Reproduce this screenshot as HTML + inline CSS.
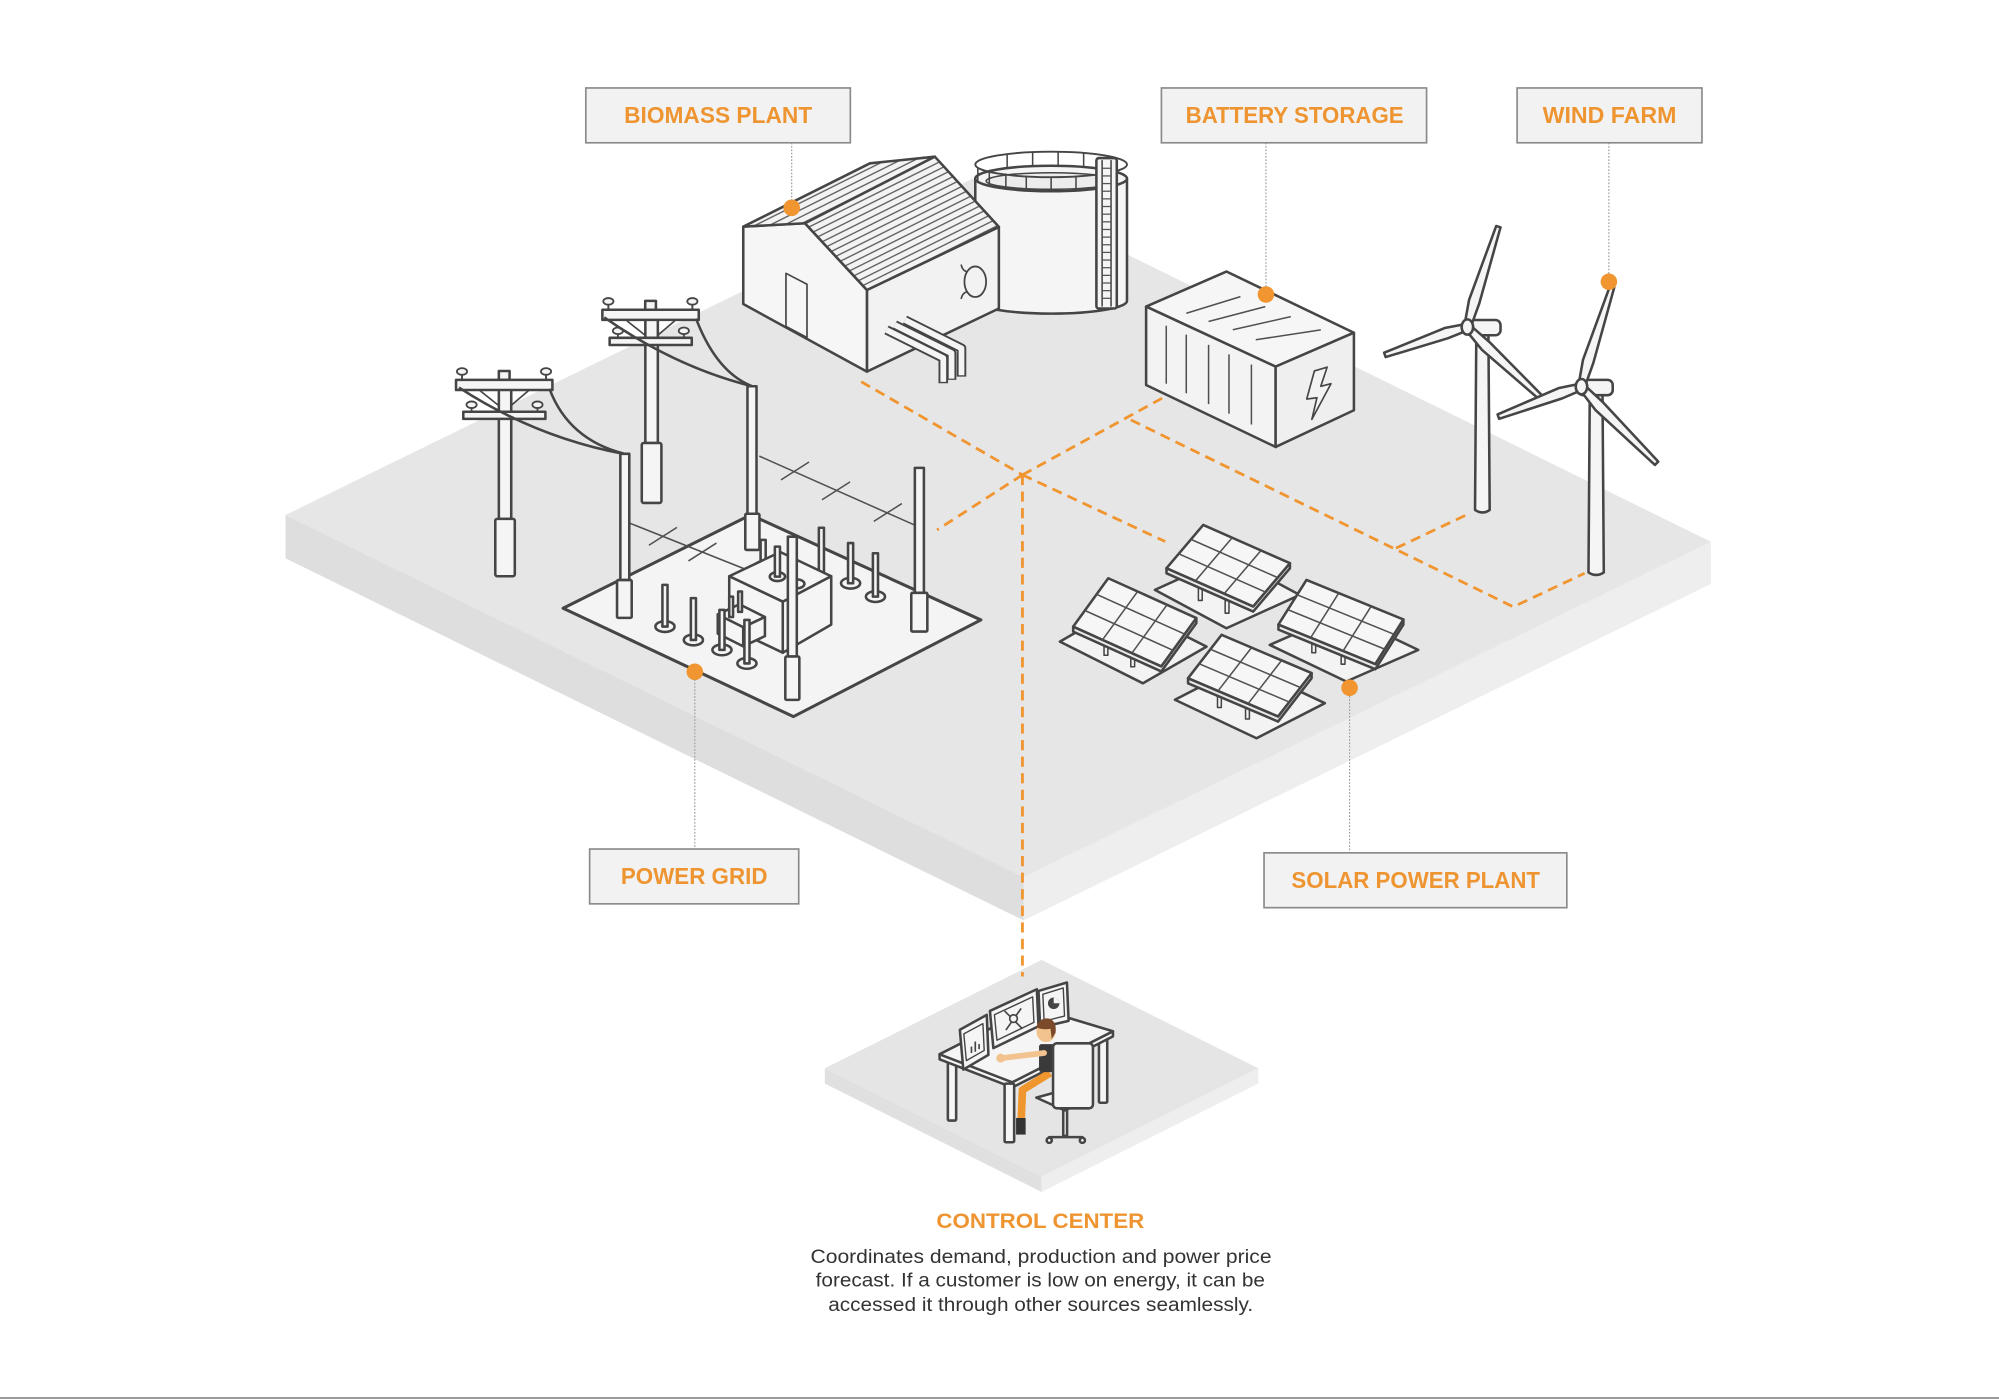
<!DOCTYPE html>
<html>
<head>
<meta charset="utf-8">
<style>
html,body{margin:0;padding:0;background:#fff;overflow:hidden;}
svg{display:block;}
.o{stroke:#454545;stroke-width:2;stroke-linejoin:round;stroke-linecap:round;}
.f{fill:#f5f5f5;}
.dash{fill:none;stroke:#F0952F;stroke-width:2.2;stroke-dasharray:8 5;}
.lead{fill:none;stroke:#9a9a9a;stroke-width:0.9;stroke-dasharray:1.3 1.3;}
.lbl{fill:#f2f2f2;stroke:#8a8a8a;stroke-width:1.3;}
.lt{font-family:"Liberation Sans",Arial,sans-serif;font-weight:700;fill:#EE9532;}
.dt{font-family:"Liberation Sans",Arial,sans-serif;fill:#333;}
.thin{stroke:#505050;stroke-width:1.2;fill:none;}
</style>
</head>
<body>
<svg width="1999" height="1400" viewBox="0 0 1568 1098.2" preserveAspectRatio="none" xmlns="http://www.w3.org/2000/svg">
<defs>
<pattern id="hatch" patternUnits="userSpaceOnUse" width="20" height="5" patternTransform="rotate(-26.5)">
<rect width="20" height="5" fill="#f3f3f3"/>
<line x1="0" y1="2.5" x2="20" y2="2.5" stroke="#505050" stroke-width="1"/>
</pattern>
</defs>

<!-- main platform -->
<polygon points="224,404 803,688 803,722 224,438" fill="#dedede"/>
<polygon points="803,688 1342,425 1342,458 803,722" fill="#eeeeee"/>
<polygon points="224,404 763,140 1342,425 803,688" fill="#e6e6e6"/>

<!-- control platform -->
<polygon points="647,838 817,923 817,935 647,850" fill="#e0e0e0"/>
<polygon points="817,923 987,838 987,850 817,935" fill="#eeeeee"/>
<polygon points="647,838 817,753 987,838 817,923" fill="#e5e5e5"/>

<!-- dashed connectors -->
<g class="dash">
<line x1="675.5" y1="299.4" x2="802" y2="372.5"/>
<line x1="802" y1="372.5" x2="914" y2="311"/>
<line x1="802" y1="372.5" x2="735" y2="415.7"/>
<line x1="802" y1="372.5" x2="914" y2="424.8"/>
<line x1="802" y1="372.5" x2="802" y2="766"/>
<polyline points="887,329.4 1187,476 1243,449.7"/>
<line x1="1095" y1="430" x2="1153" y2="402.6"/>
</g>

<!-- TANK -->
<g class="o">
<path class="f" d="M765,140 L765,236 A59.5,10 0 0 0 884,236 L884,140 Z"/>
<ellipse class="f" cx="824.5" cy="140" rx="59.5" ry="10"/>
<ellipse cx="824.5" cy="142" rx="51" ry="6.5" fill="#ececec" stroke-width="1.2"/>
<ellipse cx="824.5" cy="129" rx="59.5" ry="10" fill="none" stroke-width="1.5"/>
<g stroke-width="1.2">
<line x1="767" y1="132" x2="767" y2="143"/>
<line x1="776" y1="134.5" x2="776" y2="145.5"/>
<line x1="789" y1="136.5" x2="789" y2="147.5"/>
<line x1="805" y1="138.3" x2="805" y2="149"/>
<line x1="824.5" y1="139" x2="824.5" y2="150"/>
<line x1="844" y1="138.3" x2="844" y2="149"/>
<line x1="860" y1="136.5" x2="860" y2="147.5"/>
<line x1="790" y1="121" x2="790" y2="132"/>
<line x1="810" y1="119.5" x2="810" y2="130.5"/>
<line x1="830" y1="119.2" x2="830" y2="130.2"/>
<line x1="850" y1="120.2" x2="850" y2="131"/>
</g>
<rect class="f" x="860" y="124" width="16" height="118" rx="2"/>
<line x1="864.5" y1="126" x2="864.5" y2="240" stroke-width="1.2"/>
<line x1="871.5" y1="126" x2="871.5" y2="240" stroke-width="1.2"/>
</g>
<g stroke="#555" stroke-width="1">
<line x1="864.5" y1="132" x2="871.5" y2="132"/><line x1="864.5" y1="138" x2="871.5" y2="138"/><line x1="864.5" y1="144" x2="871.5" y2="144"/><line x1="864.5" y1="150" x2="871.5" y2="150"/><line x1="864.5" y1="156" x2="871.5" y2="156"/><line x1="864.5" y1="162" x2="871.5" y2="162"/><line x1="864.5" y1="168" x2="871.5" y2="168"/><line x1="864.5" y1="174" x2="871.5" y2="174"/><line x1="864.5" y1="180" x2="871.5" y2="180"/><line x1="864.5" y1="186" x2="871.5" y2="186"/><line x1="864.5" y1="192" x2="871.5" y2="192"/><line x1="864.5" y1="198" x2="871.5" y2="198"/><line x1="864.5" y1="204" x2="871.5" y2="204"/><line x1="864.5" y1="210" x2="871.5" y2="210"/><line x1="864.5" y1="216" x2="871.5" y2="216"/><line x1="864.5" y1="222" x2="871.5" y2="222"/><line x1="864.5" y1="228" x2="871.5" y2="228"/><line x1="864.5" y1="234" x2="871.5" y2="234"/>
</g>

<!-- HOUSE -->
<g class="o">
<polygon points="680,227.5 783.5,178 783.5,242 680,291.5" fill="#f2f2f2"/>
<polygon points="583,177.8 631.4,175.1 680,227.5 680,291.5 583,238.5" fill="#f6f6f6"/>
<polygon points="583,177.8 682.4,128.1 733.3,122.9 631.4,175.1" fill="url(#hatch)"/>
<polygon points="631.4,175.1 733.3,122.9 783.5,178 680,227.5" fill="url(#hatch)"/>
<polygon points="616.5,214.4 633,223 633,264.7 616.5,256" fill="#f6f6f6" stroke-width="1.3"/>
<ellipse cx="765" cy="221" rx="8.5" ry="12" fill="none" stroke-width="1.4"/>
<path d="M754,208 q1,4 4,5 M754,234 q1,-4 4,-5" fill="none" stroke-width="1.3"/>
</g>
<!-- pipes -->
<g fill="none" stroke-linejoin="round" stroke-linecap="butt">
<path d="M709.8,251 L754.2,273.2 L754.2,295.4" stroke="#454545" stroke-width="7.5"/>
<path d="M709.8,251 L754.2,273.2 L754.2,294.4" stroke="#f4f4f4" stroke-width="4.5"/>
<path d="M701.9,254.9 L746.4,277.1 L746.4,298" stroke="#454545" stroke-width="7.5"/>
<path d="M701.9,254.9 L746.4,277.1 L746.4,297" stroke="#f4f4f4" stroke-width="4.5"/>
<path d="M695.4,258.8 L739.9,281 L739.9,300.6" stroke="#454545" stroke-width="7.5"/>
<path d="M695.4,258.8 L739.9,281 L739.9,299.6" stroke="#f4f4f4" stroke-width="4.5"/>
</g>

<!-- BATTERY -->
<g class="o">
<polygon points="962,213 1062,261 1000.6,287.6 899,240.5" fill="#f6f6f6"/>
<polygon points="899,240.5 1000.6,287.6 1000.6,350.6 899,302" fill="#f3f3f3"/>
<polygon points="1000.6,287.6 1062,261 1062,321.8 1000.6,350.6" fill="#efefef"/>
</g>
<g class="thin">
<line x1="930.6" y1="245.7" x2="973" y2="232.7"/>
<line x1="948" y1="252.2" x2="992.5" y2="240.5"/>
<line x1="967" y1="258.7" x2="1012.5" y2="248.4"/>
<line x1="985" y1="266.5" x2="1036" y2="258.8"/>
<line x1="914.8" y1="255.5" x2="914.8" y2="301"/>
<line x1="930.5" y1="262.5" x2="930.5" y2="308.5"/>
<line x1="948" y1="270.5" x2="948" y2="317"/>
<line x1="964" y1="278" x2="964" y2="324.5"/>
<line x1="981.6" y1="286" x2="981.6" y2="333"/>
</g>
<polygon points="1031,291 1041,288 1036,303 1044,301 1029,329 1033,312 1025,313" fill="#f3f3f3" stroke="#454545" stroke-width="1.3" stroke-linejoin="round"/>

<!-- WIND TURBINES -->
<g class="o" stroke-width="1.8">
<!-- turbine 1 -->
<path class="f" d="M1158,262 L1167.5,262 L1168.5,400 Q1163,404 1157,400 Z"/>
<rect class="f" x="1150" y="251" width="27" height="12" rx="4"/>
<polygon class="f" points="1153.4,257.2 1160.4,237.8 1177,178.3 1173.6,177.3 1152.3,235.3 1148.6,255.8"/>
<polygon class="f" points="1151.8,258.9 1135.9,265.3 1086.9,280.1 1085.7,276.7 1133.2,257.3 1150.2,254.1"/>
<polygon class="f" points="1152.7,254.7 1168.3,268.3 1211.8,312.4 1209.4,315 1162.4,274.4 1149.3,258.3"/>
<ellipse class="f" cx="1151" cy="256.5" rx="4.5" ry="6"/>
<!-- turbine 2 -->
<path class="f" d="M1247,309 L1257,309 L1258,449 Q1252,453 1246,449 Z"/>
<rect class="f" x="1238" y="298" width="27" height="12" rx="4"/>
<polygon class="f" points="1242.9,304 1249.8,284.7 1266.2,225.5 1262.8,224.5 1241.7,282.2 1238.1,302.6"/>
<polygon class="f" points="1241.3,305.7 1225.4,312.5 1175.9,328.5 1174.7,325.1 1222.5,304.5 1239.7,300.9"/>
<polygon class="f" points="1242.3,301.6 1257.7,315.9 1300.7,362.1 1298.1,364.7 1251.6,321.8 1238.7,305"/>
<ellipse class="f" cx="1240.5" cy="303.3" rx="4.5" ry="6"/>
</g>

<!-- SOLAR PANELS -->
<g class="o" stroke-width="1.8">
<!-- panel 1 -->
<polygon points="905.9,462.7 963.5,436.6 1019.6,466.7 962,492.8" fill="#f3f3f3"/>
<rect x="940" y="460" width="3" height="11" fill="#f3f3f3" stroke-width="1.2"/>
<rect x="961" y="471" width="3" height="10" fill="#f3f3f3" stroke-width="1.2"/>
<polygon points="915,445.7 983,475.7 1011.8,441.8 1011.8,445.8 983,479.7 915,449.7" fill="#e9e9e9"/>
<polygon points="943.8,411.8 1011.8,441.8 983,475.7 915,445.7" fill="#f6f6f6"/>
<!-- panel 2 -->
<polygon points="831.4,503.3 881.3,474.5 946.4,507.2 896.5,536" fill="#f3f3f3"/>
<rect x="866" y="503" width="3" height="11" fill="#f3f3f3" stroke-width="1.2"/>
<rect x="887" y="513" width="3" height="10" fill="#f3f3f3" stroke-width="1.2"/>
<polygon points="841.8,491.5 910.9,522.7 938.4,484.8 938.4,488.8 910.9,526.7 841.8,495.5" fill="#e9e9e9"/>
<polygon points="869.3,453.6 938.4,484.8 910.9,522.7 841.8,491.5" fill="#f6f6f6"/>
<!-- panel 3 -->
<polygon points="996,505.9 1052.4,481.1 1112.4,509.8 1056,534.6" fill="#f3f3f3"/>
<rect x="1029" y="501" width="3" height="11" fill="#f3f3f3" stroke-width="1.2"/>
<rect x="1052" y="511" width="3" height="10" fill="#f3f3f3" stroke-width="1.2"/>
<polygon points="1002.8,489.9 1078.8,520.9 1100.8,485.9 1100.8,489.9 1078.8,524.9 1002.8,493.9" fill="#e9e9e9"/>
<polygon points="1024.8,454.9 1100.8,485.9 1078.8,520.9 1002.8,489.9" fill="#f6f6f6"/>
<!-- panel 4 -->
<polygon points="921.6,548.9 975.2,521.4 1039.2,551.6 985.6,579.1" fill="#f3f3f3"/>
<rect x="955" y="544" width="3" height="11" fill="#f3f3f3" stroke-width="1.2"/>
<rect x="977" y="554" width="3" height="10" fill="#f3f3f3" stroke-width="1.2"/>
<polygon points="931.9,532 1002.5,562 1028.8,528 1028.8,532 1002.5,566 931.9,536" fill="#e9e9e9"/>
<polygon points="958.2,498 1028.8,528 1002.5,562 931.9,532" fill="#f6f6f6"/>
</g>
<g class="thin" stroke-width="1.3">
<line x1="934.2" y1="423.1" x2="1002.2" y2="453.1"/><line x1="924.6" y1="434.4" x2="992.6" y2="464.4"/>
<line x1="966.5" y1="421.8" x2="937.7" y2="455.7"/><line x1="989.1" y1="431.8" x2="960.3" y2="465.7"/>
<line x1="860.1" y1="466.2" x2="929.2" y2="497.4"/><line x1="851" y1="478.9" x2="920.1" y2="510.1"/>
<line x1="892.3" y1="464" x2="864.8" y2="501.9"/><line x1="915.4" y1="474.4" x2="887.9" y2="512.3"/>
<line x1="1017.5" y1="466.6" x2="1093.5" y2="497.6"/><line x1="1010.1" y1="478.2" x2="1086.1" y2="509.2"/>
<line x1="1050.1" y1="465.2" x2="1028.1" y2="500.2"/><line x1="1075.5" y1="475.6" x2="1053.5" y2="510.6"/>
<line x1="949.4" y1="509.3" x2="1020" y2="539.3"/><line x1="940.7" y1="520.7" x2="1011.3" y2="550.7"/>
<line x1="981.7" y1="508" x2="955.4" y2="542"/><line x1="1005.3" y1="518" x2="979" y2="552"/>
</g>

<!-- POWER GRID: distribution poles -->
<g class="o" stroke-width="1.8">
<!-- pole A -->
<rect class="f" x="391.3" y="305" width="9.7" height="102"/>
<rect class="f" x="388.5" y="407" width="15.3" height="45" rx="1.5"/>
<rect class="f" x="391.3" y="291" width="8.4" height="7"/>
<rect class="f" x="357.7" y="298" width="75.6" height="7.9"/>
<rect class="f" x="363.4" y="323" width="64.4" height="5.6"/>
<line x1="376" y1="306" x2="391" y2="318" stroke-width="1.3"/>
<line x1="415" y1="306" x2="401" y2="318" stroke-width="1.3"/>
<line x1="362.4" y1="293" x2="362.4" y2="298" stroke-width="1.5"/>
<line x1="428.3" y1="293" x2="428.3" y2="298" stroke-width="1.5"/>
<ellipse class="f" cx="362.4" cy="291.4" rx="4" ry="2.6" stroke-width="1.4"/>
<ellipse class="f" cx="428.3" cy="291.4" rx="4" ry="2.6" stroke-width="1.4"/>
<ellipse class="f" cx="369.9" cy="317.5" rx="4" ry="2.6" stroke-width="1.4"/>
<ellipse class="f" cx="421.6" cy="317.5" rx="4" ry="2.6" stroke-width="1.4"/>
<line x1="369.9" y1="320" x2="369.9" y2="323" stroke-width="1.4"/>
<line x1="421.6" y1="320" x2="421.6" y2="323" stroke-width="1.4"/>
<!-- pole B -->
<rect class="f" x="506.2" y="250" width="9.8" height="97.5"/>
<rect class="f" x="503.4" y="347.5" width="15.4" height="47" rx="1.5"/>
<rect class="f" x="506.1" y="236" width="8.4" height="7"/>
<rect class="f" x="472.5" y="243" width="75.6" height="7.9"/>
<rect class="f" x="478.2" y="265" width="64.4" height="5.6"/>
<line x1="491" y1="251" x2="506" y2="263" stroke-width="1.3"/>
<line x1="530" y1="251" x2="516" y2="263" stroke-width="1.3"/>
<line x1="477.2" y1="238" x2="477.2" y2="243" stroke-width="1.5"/>
<line x1="543.1" y1="238" x2="543.1" y2="243" stroke-width="1.5"/>
<ellipse class="f" cx="477.2" cy="236.4" rx="4" ry="2.6" stroke-width="1.4"/>
<ellipse class="f" cx="543.1" cy="236.4" rx="4" ry="2.6" stroke-width="1.4"/>
<ellipse class="f" cx="484.7" cy="259.5" rx="4" ry="2.6" stroke-width="1.4"/>
<ellipse class="f" cx="536.4" cy="259.5" rx="4" ry="2.6" stroke-width="1.4"/>
<line x1="484.7" y1="262" x2="484.7" y2="265" stroke-width="1.4"/>
<line x1="536.4" y1="262" x2="536.4" y2="265" stroke-width="1.4"/>
</g>

<!-- substation pad -->
<polygon points="441.7,477.1 588.8,403.9 769.4,486.3 622.4,562.1" fill="#f4f4f4" stroke="#454545" stroke-width="2.4" stroke-linejoin="round"/>

<!-- wires -->
<g fill="none" stroke="#454545" stroke-width="2">
<path d="M360,304 Q420,343 489,356"/>
<path d="M431,305 Q446,345 490,356"/>
<path d="M474,249 Q530,288 590,303"/>
<path d="M546,250 Q562,292 590,303"/>
</g>
<!-- fence wires -->
<g class="thin">
<line x1="595.6" y1="357.8" x2="718.8" y2="412.5"/>
<line x1="612.6" y1="376.4" x2="634.6" y2="362.4"/>
<line x1="644.8" y1="392" x2="666.8" y2="378"/>
<line x1="685.4" y1="409" x2="707.4" y2="395"/>
<line x1="493" y1="410" x2="621" y2="461"/>
<line x1="509" y1="427.7" x2="531" y2="413.7"/>
<line x1="540" y1="440" x2="562" y2="426"/>
</g>

<!-- substation poles C D E -->
<g class="o" stroke-width="1.8">
<rect class="f" x="486.6" y="356" width="7" height="99"/>
<rect class="f" x="484" y="455" width="11.5" height="29.7" rx="1"/>
<rect class="f" x="586.3" y="303" width="7.1" height="100"/>
<rect class="f" x="584.6" y="403" width="11.1" height="28.4" rx="1"/>
<rect class="f" x="717.6" y="367" width="7.1" height="98"/>
<rect class="f" x="714.8" y="465" width="12.6" height="30.4" rx="1"/>
</g>

<!-- transformer & insulators -->
<g class="o" stroke-width="1.6">
<ellipse class="f" cx="598.6" cy="444.4" rx="7" ry="4"/><rect class="f" x="596.6" y="423.5" width="4" height="21"/>
<ellipse class="f" cx="667.2" cy="457.5" rx="7.5" ry="4.2"/><rect class="f" x="665.2" y="426" width="4" height="31.5"/>
<ellipse class="f" cx="686.7" cy="468" rx="7.5" ry="4.2"/><rect class="f" x="684.7" y="434" width="4" height="34"/>
<rect class="f" x="642.3" y="414" width="4" height="46"/>
<polygon class="f" points="572,452 612,433 652,452 614,472"/>
<polygon class="f" points="572,452 614,472 614,512 572,492"/>
<polygon class="f" points="614,472 652,452 652,490 614,512"/>
<ellipse class="f" cx="609.8" cy="452.3" rx="6" ry="3.5"/><rect class="f" x="607.8" y="428.8" width="4" height="23.5"/>
<ellipse class="f" cx="625" cy="458" rx="6" ry="3.5"/>
<polygon class="f" points="563,482 580,474 600,484 583,492"/>
<polygon class="f" points="563,482 583,492 583,507 563,497"/>
<polygon class="f" points="583,492 600,484 600,499 583,507"/>
<rect class="f" x="572" y="468" width="3" height="16"/>
<rect class="f" x="579" y="464" width="3" height="16"/>
<ellipse class="f" cx="521.6" cy="491.5" rx="7.5" ry="4.2"/><rect class="f" x="519.6" y="458.8" width="4" height="32.7"/>
<ellipse class="f" cx="543.9" cy="502" rx="7.5" ry="4.2"/><rect class="f" x="541.9" y="469.2" width="4" height="32.8"/>
<ellipse class="f" cx="566.3" cy="509.8" rx="7.5" ry="4.2"/><rect class="f" x="564.3" y="478.4" width="4" height="31.4"/>
<ellipse class="f" cx="585.9" cy="520.4" rx="7.5" ry="4.2"/><rect class="f" x="583.9" y="486.3" width="4" height="34.1"/>
<!-- pole F -->
<rect class="f" x="618" y="421" width="7" height="94"/>
<rect class="f" x="616" y="515" width="11" height="34" rx="1"/>
</g>

<!-- CONTROL CENTER figure -->
<g class="o" stroke-width="1.8">
<rect class="f" x="743.5" y="829" width="6.5" height="50" rx="1"/>
<rect class="f" x="862" y="812" width="6.5" height="53" rx="1"/>
<polygon class="f" points="737,827 810,790 873,809 873,813 794,853 737,831"/>
<polygon class="f" points="737,827 810,790 873,809 794,849"/>
<rect class="f" x="788" y="850" width="7.5" height="46" rx="1"/>
<polygon class="f" points="752.9,807.8 774,796.1 775.3,827.5 755.6,839"/>
<polygon class="f" points="776.5,793 813.3,776 814.6,805 779.2,822.2"/>
<polygon class="f" points="814.6,777.3 836.9,770.7 838.2,800.8 815.9,806"/>
<polygon points="756,811 771,803 772,824 758,832" fill="none" stroke-width="1.1"/>
<polygon points="780,796 810,782 811,802 782,816" fill="none" stroke-width="1.1"/>
<polygon points="818,780 834,775 835,797 819,801" fill="none" stroke-width="1.1"/>
</g>
<g stroke="#454545" stroke-width="1.3" fill="none">
<line x1="762" y1="821" x2="762" y2="826"/><line x1="765" y1="817" x2="765" y2="825"/><line x1="768" y1="819" x2="768" y2="823"/>
<line x1="788" y1="793" x2="802" y2="807"/><line x1="801" y1="791" x2="789" y2="808"/>
<circle cx="795" cy="799" r="3" fill="#f5f5f5"/>
</g>
<circle cx="826.5" cy="787" r="4.5" fill="#454545"/>
<path d="M826.5,787 L826.5,782.5 A4.5,4.5 0 0 1 831,787 Z" fill="#f5f5f5"/>
<!-- person -->
<path d="M823.7,841.6 L802,855 L801,879" fill="none" stroke="#F0962E" stroke-width="6" stroke-linejoin="round"/>
<rect x="797" y="877" width="7.5" height="13" fill="#333"/>
<rect x="815" y="819" width="12.5" height="22" rx="2" fill="#3a3a3a"/>
<path d="M819,826 L786,830" stroke="#F2C38F" stroke-width="4.5" stroke-linecap="round"/>
<circle cx="785" cy="830" r="3.5" fill="#F2C38F"/>
<ellipse cx="820.5" cy="809" rx="7.5" ry="8.5" fill="#F2C38F"/>
<path d="M813,806 Q815,798 823,799 Q829,801 828,810 L825,815 L824,807 Q818,808 813,806 Z" fill="#7a4a2a"/>
<!-- chair -->
<g class="o" stroke-width="1.8">
<polygon class="f" points="812.9,861 831,856 852.5,864 835,871"/>
<rect class="f" x="826" y="818.4" width="31.3" height="51" rx="3"/>
<rect class="f" x="834" y="871" width="3" height="20"/>
<line x1="823" y1="892" x2="849" y2="892"/>
<circle cx="823" cy="894.5" r="2" class="f"/>
<circle cx="849" cy="894.5" r="2" class="f"/>
</g>

<!-- orange dots -->
<g fill="#F0952F">
<circle cx="621" cy="163" r="6.5"/>
<circle cx="993" cy="231" r="6.5"/>
<circle cx="1262" cy="221" r="6.5"/>
<circle cx="545" cy="527" r="6.5"/>
<circle cx="1058.6" cy="539.5" r="6.5"/>
</g>

<!-- leader lines -->
<g class="lead">
<line x1="621" y1="112" x2="621" y2="157"/>
<line x1="993" y1="112" x2="993" y2="225"/>
<line x1="1262" y1="112" x2="1262" y2="215"/>
<line x1="545" y1="533" x2="545" y2="666"/>
<line x1="1058.6" y1="546" x2="1058.6" y2="669"/>
</g>

<!-- labels -->
<rect class="lbl" x="459.5" y="69" width="207.5" height="43"/>
<rect class="lbl" x="911" y="69" width="208" height="43"/>
<rect class="lbl" x="1190" y="69" width="145" height="43"/>
<rect class="lbl" x="462.5" y="666" width="164" height="43"/>
<rect class="lbl" x="991.5" y="669" width="237.5" height="43"/>

<text class="lt" x="563.3" y="96.5" font-size="18" text-anchor="middle" textLength="147.5" lengthAdjust="spacingAndGlyphs">BIOMASS PLANT</text>
<text class="lt" x="1015.5" y="96.5" font-size="18" text-anchor="middle" textLength="171" lengthAdjust="spacingAndGlyphs">BATTERY STORAGE</text>
<text class="lt" x="1262.5" y="96.5" font-size="18" text-anchor="middle" textLength="105" lengthAdjust="spacingAndGlyphs">WIND FARM</text>
<text class="lt" x="544.5" y="693.5" font-size="18" text-anchor="middle" textLength="115" lengthAdjust="spacingAndGlyphs">POWER GRID</text>
<text class="lt" x="1110.5" y="696.5" font-size="18" text-anchor="middle" textLength="195" lengthAdjust="spacingAndGlyphs">SOLAR POWER PLANT</text>

<text class="lt" x="816" y="963.4" font-size="16.5" text-anchor="middle" textLength="163" lengthAdjust="spacingAndGlyphs">CONTROL CENTER</text>
<text class="dt" x="816.6" y="990.9" font-size="15" text-anchor="middle" textLength="361.6" lengthAdjust="spacingAndGlyphs">Coordinates demand, production and power price</text>
<text class="dt" x="816" y="1009.3" font-size="15" text-anchor="middle" textLength="352.4" lengthAdjust="spacingAndGlyphs">forecast. If a customer is low on energy, it can be</text>
<text class="dt" x="816.3" y="1028.3" font-size="15" text-anchor="middle" textLength="333.3" lengthAdjust="spacingAndGlyphs">accessed it through other sources seamlessly.</text>

<!-- bottom rule -->
<line x1="0" y1="1096.6" x2="1568" y2="1096.6" stroke="#8c8c8c" stroke-width="1.4"/>
</svg>
</body>
</html>
